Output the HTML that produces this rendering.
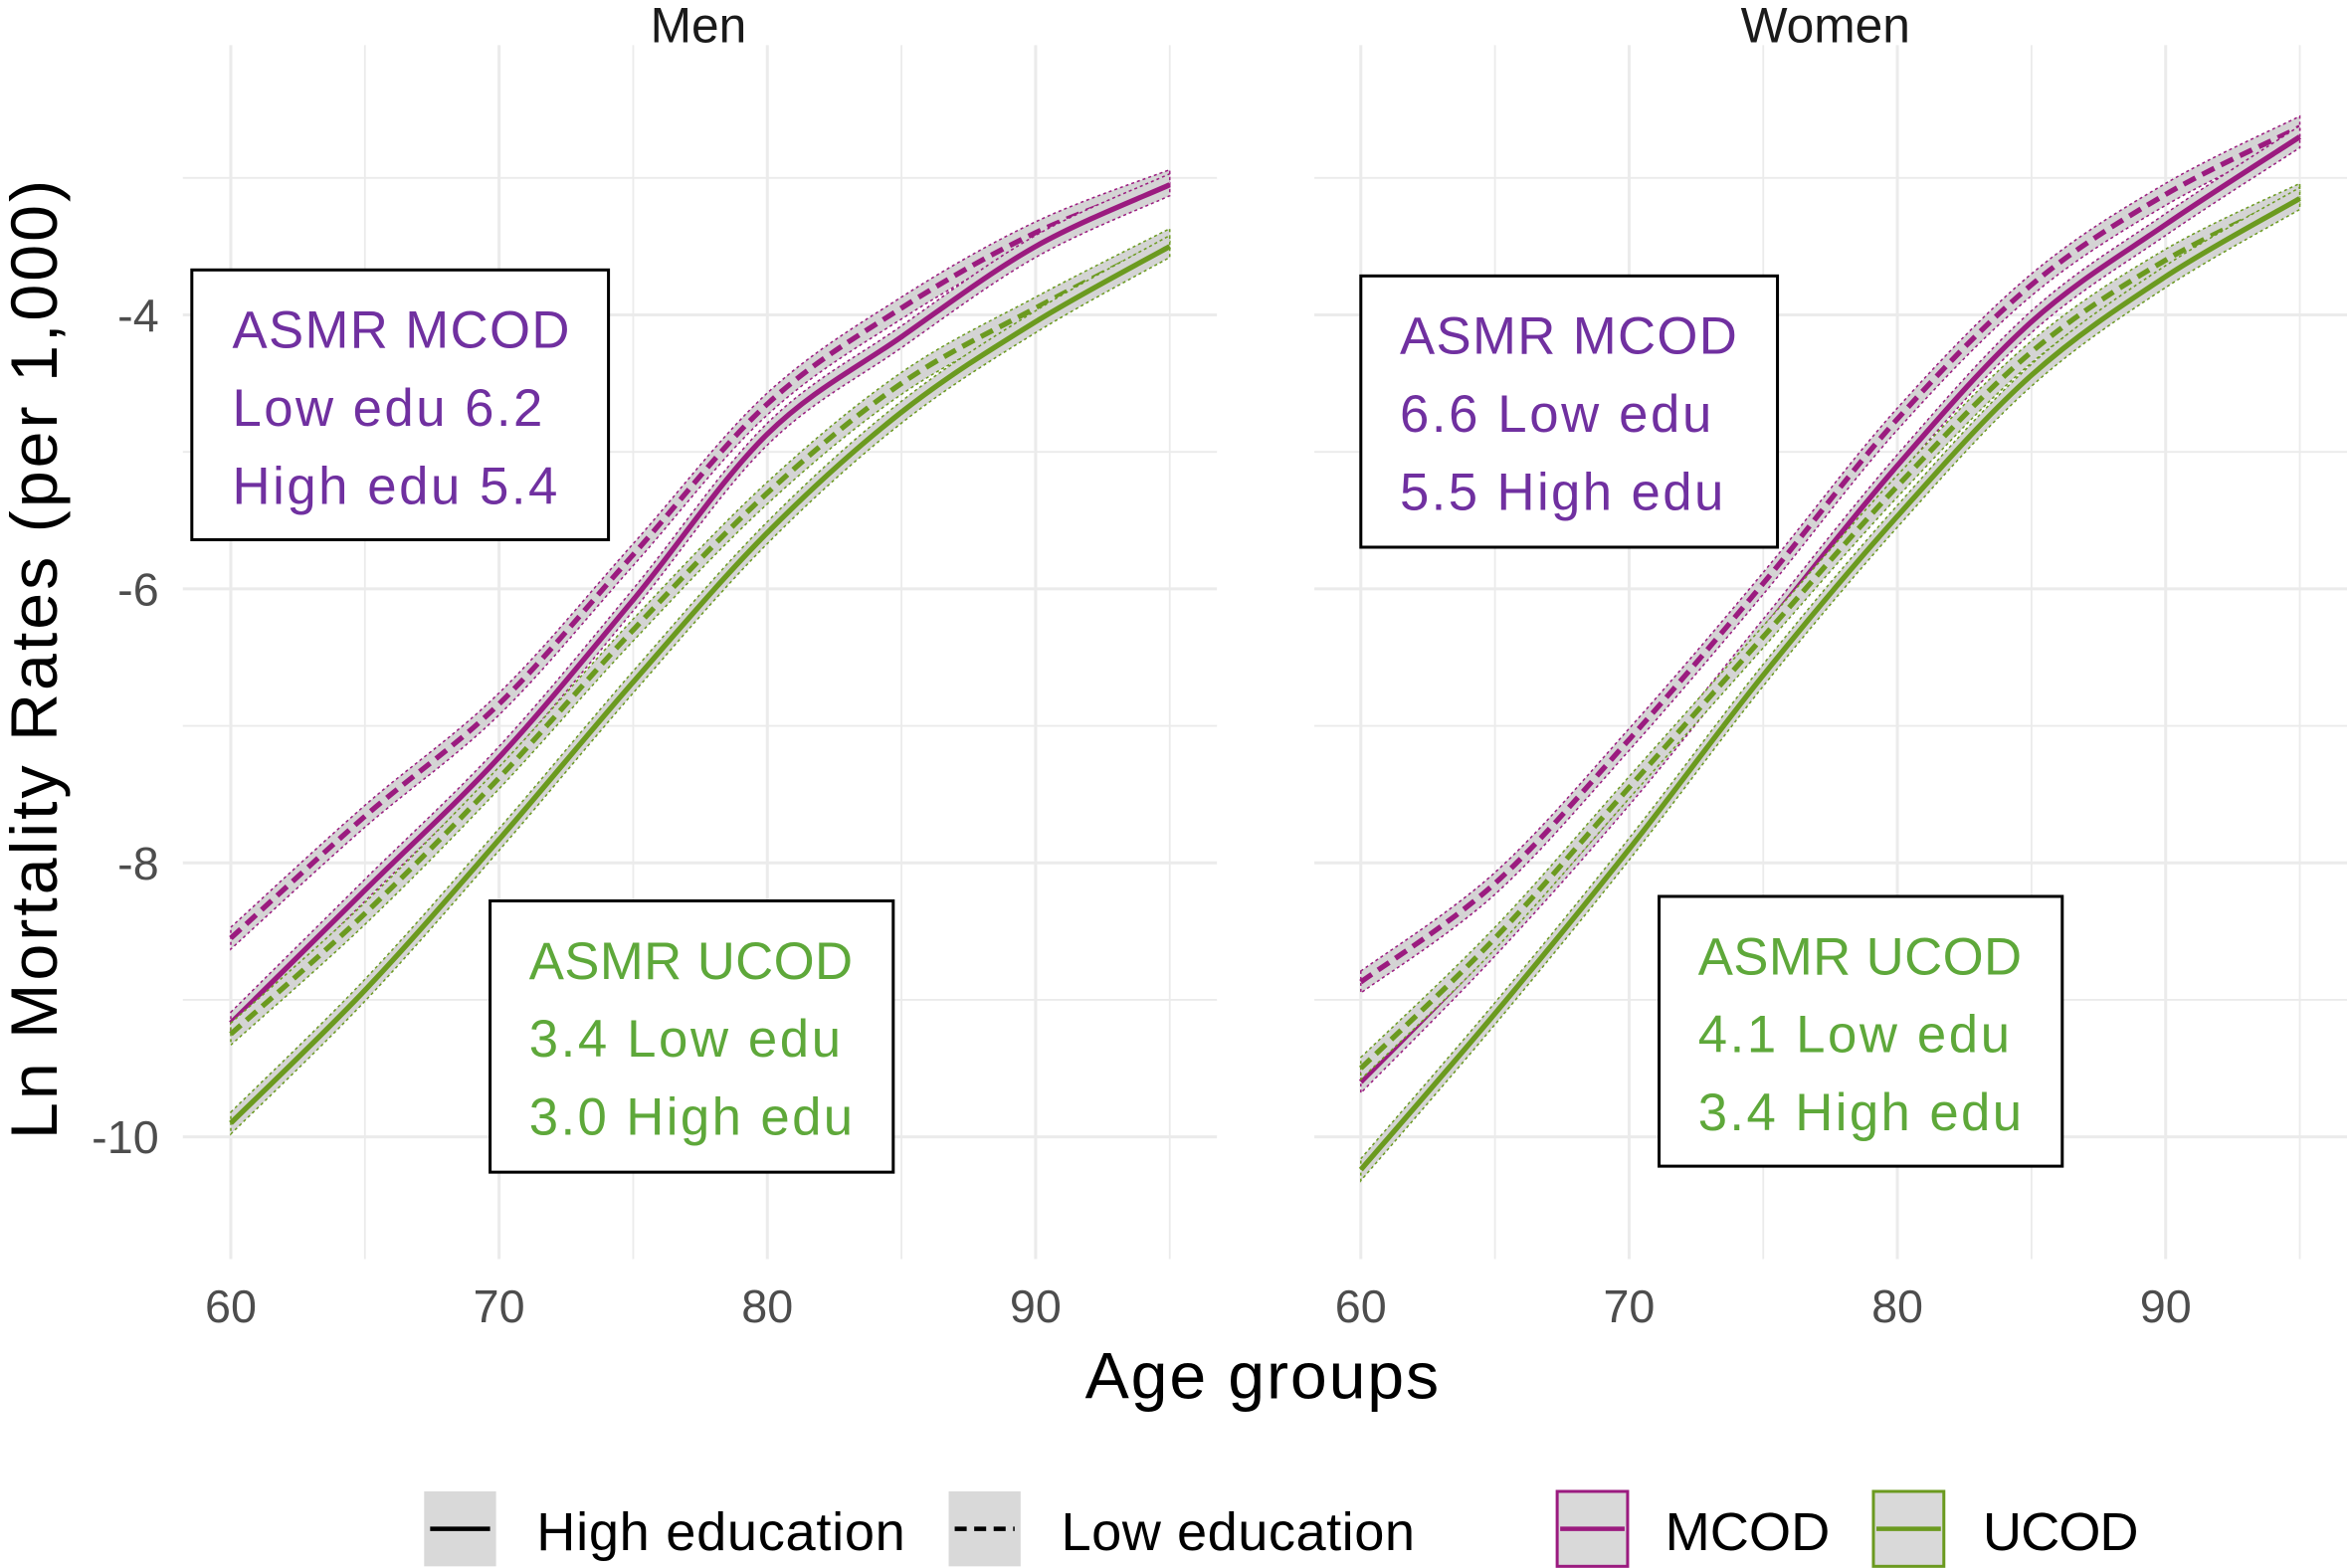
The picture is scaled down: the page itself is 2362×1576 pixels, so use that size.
<!DOCTYPE html>
<html><head><meta charset="utf-8"><style>
html,body{margin:0;padding:0;background:#fff;}
svg{display:block;}
text{font-family:"Liberation Sans",sans-serif;}
</style></head><body>
<svg id="chart" width="2362" height="1576" viewBox="0 0 1568 1046" xmlns="http://www.w3.org/2000/svg">
<g id="grid"></g>
<g id="series"></g>
<g id="labels"></g>
<g>
<rect x="128" y="180" width="278" height="180" fill="#fff" stroke="#000" stroke-width="2"/>
<text x="155" y="232" font-size="35" fill="#7030a0" textLength="225">ASMR MCOD</text>
<text x="155" y="284" font-size="35" fill="#7030a0" textLength="207">Low edu 6.2</text>
<text x="155" y="336" font-size="35" fill="#7030a0" textLength="217">High edu 5.4</text></g>
<g>
<rect x="327" y="601" width="269" height="181" fill="#fff" stroke="#000" stroke-width="2"/>
<text x="353" y="653" font-size="35" fill="#5ea83a" textLength="216">ASMR UCOD</text>
<text x="353" y="705" font-size="35" fill="#5ea83a" textLength="208">3.4 Low edu</text>
<text x="353" y="757" font-size="35" fill="#5ea83a" textLength="216">3.0 High edu</text></g>
<g>
<rect x="908" y="184" width="278" height="181" fill="#fff" stroke="#000" stroke-width="2"/>
<text x="934" y="236" font-size="35" fill="#7030a0" textLength="225">ASMR MCOD</text>
<text x="934" y="288" font-size="35" fill="#7030a0" textLength="208">6.6 Low edu</text>
<text x="934" y="340" font-size="35" fill="#7030a0" textLength="216">5.5 High edu</text></g>
<g>
<rect x="1107" y="598" width="269" height="180" fill="#fff" stroke="#000" stroke-width="2"/>
<text x="1133" y="650" font-size="35" fill="#5ea83a" textLength="216">ASMR UCOD</text>
<text x="1133" y="702" font-size="35" fill="#5ea83a" textLength="208">4.1 Low edu</text>
<text x="1133" y="754" font-size="35" fill="#5ea83a" textLength="216">3.4 High edu</text></g>
<text x="842" y="933" font-size="44" text-anchor="middle" fill="#000" textLength="236">Age groups</text>
<text transform="translate(38,440) rotate(-90)" font-size="44" text-anchor="middle" fill="#000" textLength="640">Ln Mortality Rates (per 1,000)</text>
<g>
<g><rect x="283" y="995" width="48" height="50" fill="#d9d9d9"/><line x1="287" y1="1020" x2="327" y2="1020" stroke="#000" stroke-width="3"/><text x="358" y="1034" font-size="36" textLength="246">High education</text></g>
<g><rect x="633" y="995" width="48" height="50" fill="#d9d9d9"/><line x1="637" y1="1020" x2="677" y2="1020" stroke="#000" stroke-width="3" stroke-dasharray="8,5"/><text x="708" y="1034" font-size="36" textLength="236">Low education</text></g>
<g><rect x="1039" y="995" width="47" height="50" fill="#d9d9d9" stroke="#9b1b7f" stroke-width="2"/><line x1="1041" y1="1020" x2="1084" y2="1020" stroke="#9b1b7f" stroke-width="3"/><text x="1111" y="1034" font-size="36" textLength="110">MCOD</text></g>
<g><rect x="1250" y="995" width="47" height="50" fill="#d9d9d9" stroke="#6b9a1f" stroke-width="2"/><line x1="1252" y1="1020" x2="1295" y2="1020" stroke="#6b9a1f" stroke-width="3"/><text x="1323" y="1034" font-size="36" textLength="104">UCOD</text></g>
</g>
</svg>
<script>
const ages = [60,65,70,75,80,85,90,95];
const menMcodLow  = [-8.55,-7.66,-6.84,-5.75,-4.65,-3.95,-3.4,-3.02];
const menMcodHigh = [-9.17,-8.2,-7.23,-6.08,-4.87,-4.16,-3.5,-3.05];
const menUcodLow  = [-9.25,-8.37,-7.38,-6.3,-5.3,-4.5,-3.95,-3.45];
const menUcodHigh = [-9.9,-8.93,-7.83,-6.68,-5.59,-4.71,-4.05,-3.5];
const womenMcodLow  = [-8.87,-8.15,-7.1,-5.96,-4.76,-3.78,-3.12,-2.63];
const womenMcodHigh = [-9.6,-8.6,-7.5,-6.3,-5.1,-4.05,-3.34,-2.7];
const womenUcodLow  = [-9.5,-8.55,-7.45,-6.35,-5.25,-4.27,-3.6,-3.12];
const womenUcodHigh = [-10.24,-9.1,-7.9,-6.63,-5.47,-4.44,-3.72,-3.15];
const yTicks = [-4,-6,-8,-10];
const xTicks = [60,70,80,90];
const panelTitles = ["Men","Women"];

const NS="http://www.w3.org/2000/svg";
const panels=[{x0:154,left:122,right:812},{x0:908,left:877,right:1566}];
const yS=v=>210+(-4-v)*91.4;
const xS=(p,a)=>panels[p].x0+(a-60)*17.9;
function mk(tag,attrs,parent){const e=document.createElementNS(NS,tag);for(const k in attrs)e.setAttribute(k,attrs[k]);parent.appendChild(e);return e;}
function smooth(pts){let d='M'+pts[0][0]+','+pts[0][1];
  for(let i=0;i<pts.length-1;i++){const p0=pts[Math.max(0,i-1)],p1=pts[i],p2=pts[i+1],p3=pts[Math.min(pts.length-1,i+2)];
    const c1=[p1[0]+(p2[0]-p0[0])/6,p1[1]+(p2[1]-p0[1])/6],c2=[p2[0]-(p3[0]-p1[0])/6,p2[1]-(p3[1]-p1[1])/6];
    d+=' C'+c1.join(',')+' '+c2.join(',')+' '+p2.join(',');}
  return d;}
const grid=document.getElementById('grid'),series=document.getElementById('series'),labels=document.getElementById('labels');
panels.forEach((p,pi)=>{
  for(let v=-3;v>=-10;v-=1){const l=mk('line',{x1:p.left,x2:p.right,y1:yS(v),y2:yS(v),stroke:'#ebebeb','stroke-width':v%2===0?2:1.2},grid);
    
    }
  for(let a=60;a<=95;a+=5){const l=mk('line',{x1:xS(pi,a),x2:xS(pi,a),y1:30,y2:840,stroke:'#ebebeb','stroke-width':a%10===0?2:1.2},grid);
    
    }
  xTicks.forEach(t=>{const tx=mk('text',{x:xS(pi,t),y:882,'font-size':31,'text-anchor':'middle',fill:'#4d4d4d'},labels);tx.textContent=t;
    
    });
  const tt=mk('text',{x:pi===0?466:1218,y:28,'font-size':33,'text-anchor':'middle',fill:'#1a1a1a'},labels);tt.textContent=panelTitles[pi];
  
  
});
yTicks.forEach(t=>{const tx=mk('text',{x:106,y:yS(t)+11,'font-size':31,'text-anchor':'end',fill:'#4d4d4d'},labels);tx.textContent=t;
  
  });
const defs=[[0,menMcodLow,'#9b1b7f',true,'men-mcod-low'],[0,menMcodHigh,'#9b1b7f',false,'men-mcod-high'],[0,menUcodLow,'#6b9a1f',true,'men-ucod-low'],[0,menUcodHigh,'#6b9a1f',false,'men-ucod-high'],
[1,womenMcodLow,'#9b1b7f',true,'women-mcod-low'],[1,womenMcodHigh,'#9b1b7f',false,'women-mcod-high'],[1,womenUcodLow,'#6b9a1f',true,'women-ucod-low'],[1,womenUcodHigh,'#6b9a1f',false,'women-ucod-high']];
defs.forEach(([pi,vals,col,dash,name])=>{
  const w=0.08;
  const up=ages.map((a,i)=>[xS(pi,a),yS(vals[i]+w)]);
  const dn=ages.map((a,i)=>[xS(pi,a),yS(vals[i]-w)]).reverse();
  const dUp=smooth(up), dDn=smooth(dn).replace('M','L');
  const r=mk('path',{d:dUp+' '+dDn+' Z',fill:'#d4d4d4',stroke:col,'stroke-width':1,'stroke-dasharray':'2,2'},series);
  
  
  const l=mk('path',{d:smooth(ages.map((a,i)=>[xS(pi,a),yS(vals[i])])),fill:'none',stroke:col,'stroke-width':3.5},series);
  if(dash)l.setAttribute('stroke-dasharray','9,5');
  
  
});
</script>
</body></html>
